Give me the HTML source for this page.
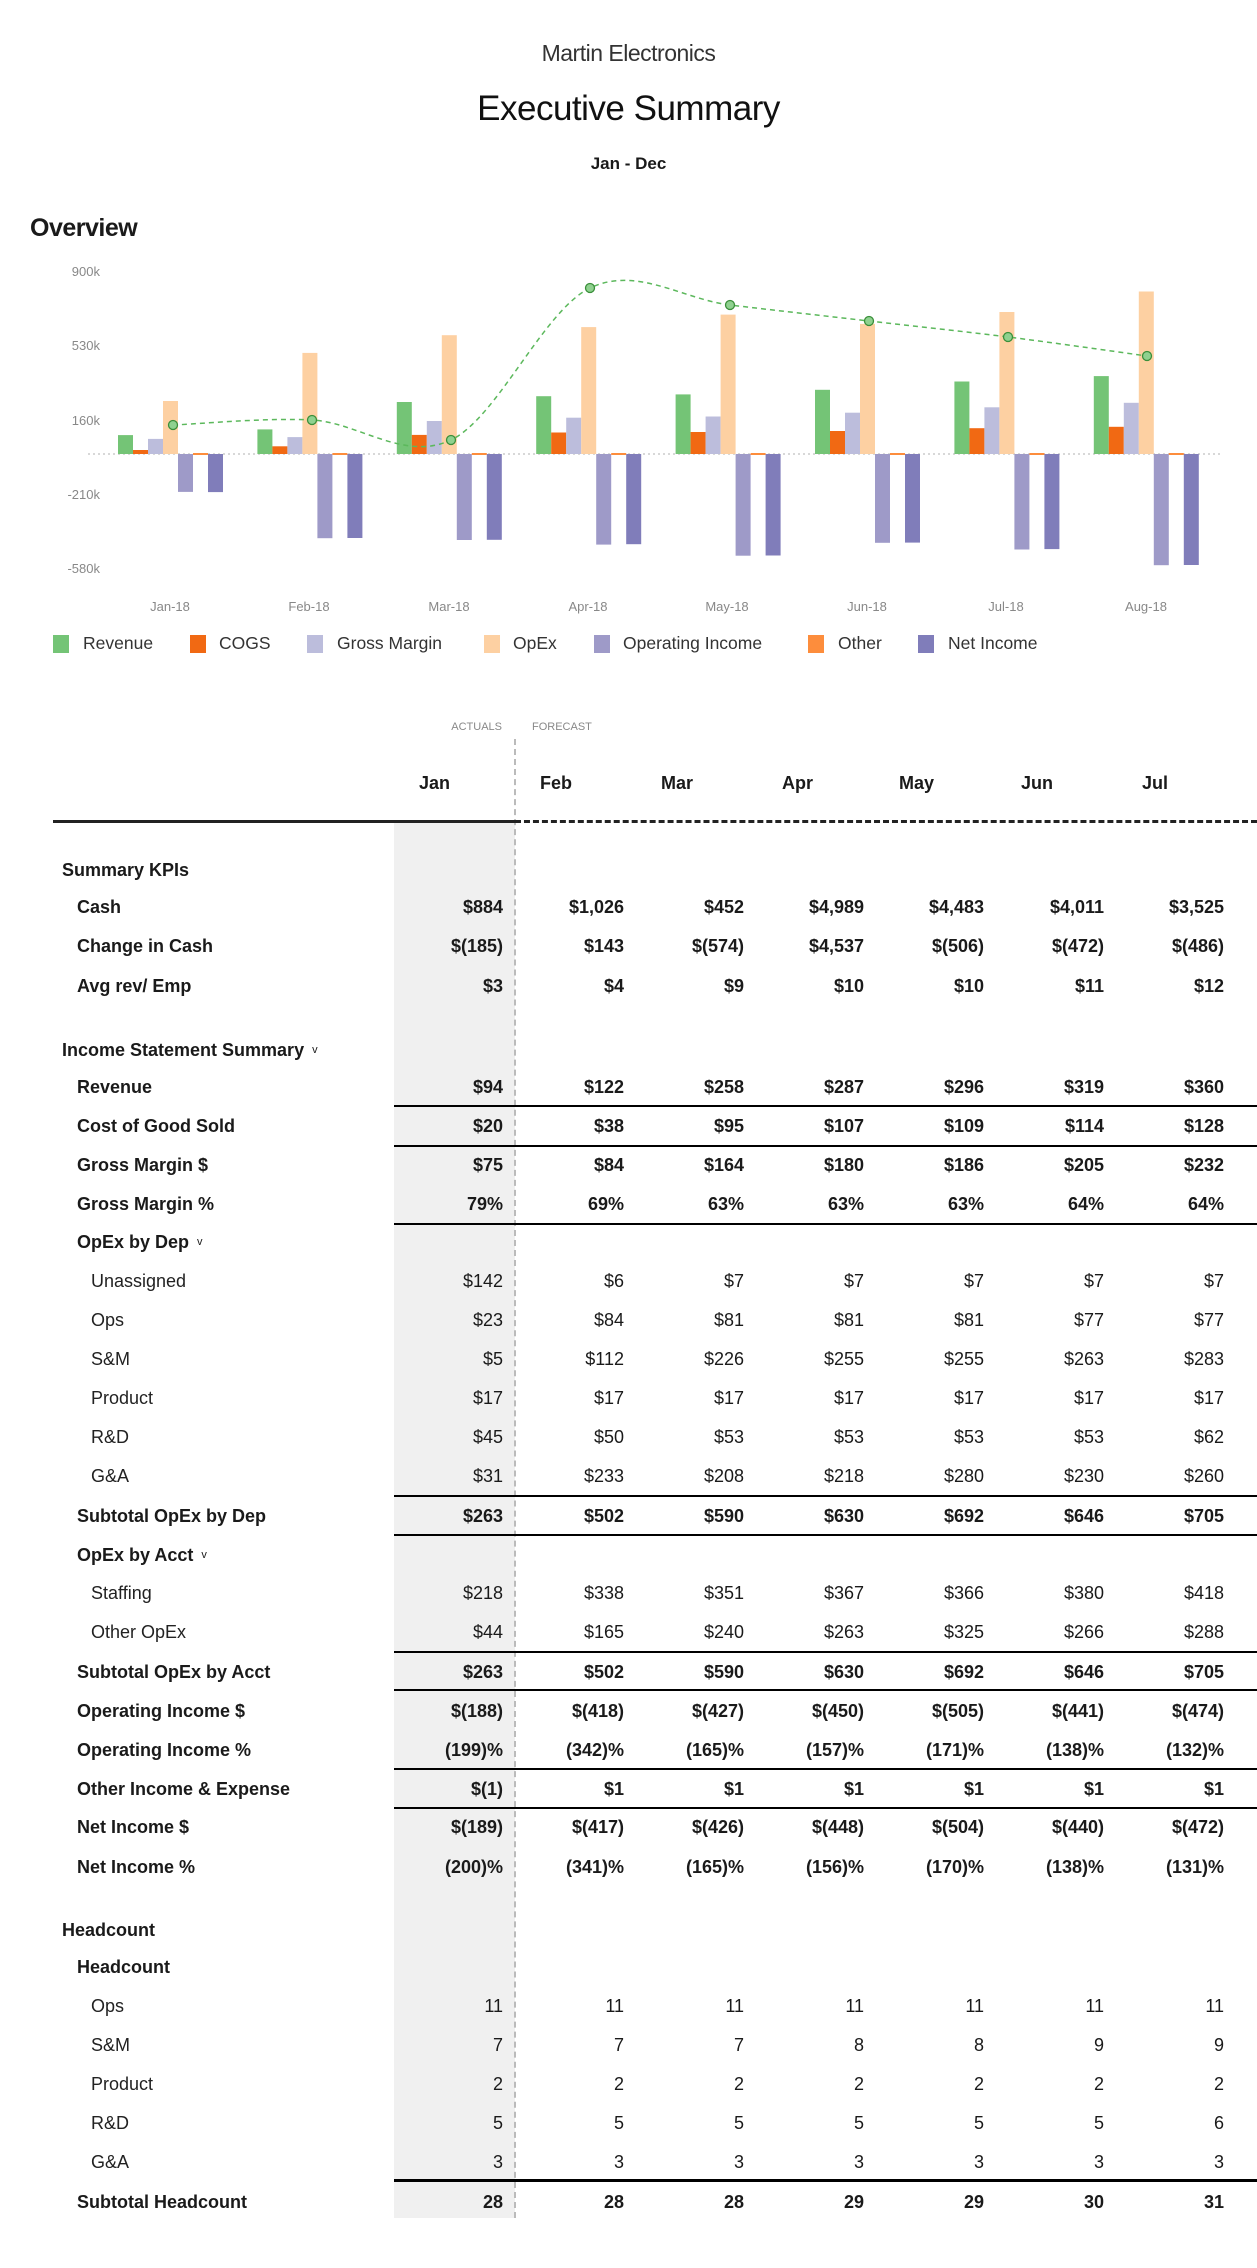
<!DOCTYPE html>
<html><head><meta charset="utf-8"><style>
*{margin:0;padding:0;box-sizing:border-box}
body{width:1257px;height:2268px;position:relative;background:#fff;font-family:"Liberation Sans",Arial,sans-serif;color:#1a1a1a;overflow:hidden}
.a{position:absolute;white-space:nowrap}
.r{position:absolute;left:0;width:1257px;height:39px;line-height:39px;font-size:18px}
.r span{position:absolute;top:0;white-space:nowrap}
.v{width:110px;text-align:right}
.c1{left:393px}.c2{left:514px}.c3{left:634px}.c4{left:754px}.c5{left:874px}.c6{left:994px}.c7{left:1114px}
.l0{left:62px;font-weight:bold}
.l1{left:77px}
.l2{left:91px;color:#222}
.b{font-weight:bold}
.hl{position:absolute;left:394px;width:863px;height:2px;background:#000}
.ch{font-size:11px;font-weight:normal;margin-left:8px;vertical-align:2px}
.lg{position:absolute;top:635px;width:16px;height:18px}
.lt{position:absolute;top:633px;font-size:17.5px;color:#333;white-space:nowrap}
</style></head><body>
<div class="a" style="left:0;width:1257px;text-align:center;top:40px;font-size:23px;color:#333;letter-spacing:-0.5px">Martin Electronics</div>
<div class="a" style="left:0;width:1257px;text-align:center;top:89px;font-size:35px;color:#111;letter-spacing:-0.5px">Executive Summary</div>
<div class="a" style="left:0;width:1257px;text-align:center;top:154px;font-size:17px;font-weight:bold">Jan - Dec</div>
<div class="a" style="left:30px;top:214px;font-size:25px;font-weight:bold;letter-spacing:-0.5px">Overview</div>

<svg class="a" style="left:0;top:0" width="1257" height="700">
<g font-size="13" fill="#888" text-anchor="end" font-family="Liberation Sans, sans-serif">
<text x="100" y="276">900k</text><text x="100" y="350">530k</text><text x="100" y="425">160k</text><text x="100" y="499">-210k</text><text x="100" y="573">-580k</text>
</g>
<g font-size="13" fill="#888" text-anchor="middle" font-family="Liberation Sans, sans-serif">
<text x="170" y="611">Jan-18</text><text x="309" y="611">Feb-18</text><text x="449" y="611">Mar-18</text><text x="588" y="611">Apr-18</text><text x="727" y="611">May-18</text><text x="867" y="611">Jun-18</text><text x="1006" y="611">Jul-18</text><text x="1146" y="611">Aug-18</text>
</g>
<line x1="88" y1="454" x2="1222" y2="454" stroke="#ccc" stroke-width="1.5" stroke-dasharray="2,3"/>
<!-- groups -->
<g transform="translate(118,0)">
<rect x="0" y="435.1" width="15" height="18.9" fill="#74c476"/><rect x="15" y="450" width="15" height="4" fill="#f16913"/><rect x="30" y="438.9" width="15" height="15.1" fill="#bcbddc"/><rect x="45" y="401" width="15" height="53" fill="#fdd0a2"/><rect x="60" y="454" width="15" height="37.9" fill="#9e9ac8"/><rect x="75" y="453" width="15" height="2" fill="#fd8d3c"/><rect x="90" y="454" width="15" height="38.1" fill="#807dba"/></g>
<g transform="translate(257.4,0)">
<rect x="0" y="429.4" width="15" height="24.6" fill="#74c476"/><rect x="15" y="446.3" width="15" height="7.7" fill="#f16913"/><rect x="30" y="437.1" width="15" height="16.9" fill="#bcbddc"/><rect x="45" y="352.9" width="15" height="101.1" fill="#fdd0a2"/><rect x="60" y="454" width="15" height="84.2" fill="#9e9ac8"/><rect x="75" y="453" width="15" height="2" fill="#fd8d3c"/><rect x="90" y="454" width="15" height="84" fill="#807dba"/></g>
<g transform="translate(396.8,0)">
<rect x="0" y="402" width="15" height="52" fill="#74c476"/><rect x="15" y="434.9" width="15" height="19.1" fill="#f16913"/><rect x="30" y="421" width="15" height="33" fill="#bcbddc"/><rect x="45" y="335.2" width="15" height="118.8" fill="#fdd0a2"/><rect x="60" y="454" width="15" height="86" fill="#9e9ac8"/><rect x="75" y="453" width="15" height="2" fill="#fd8d3c"/><rect x="90" y="454" width="15" height="85.8" fill="#807dba"/></g>
<g transform="translate(536.2,0)">
<rect x="0" y="396.2" width="15" height="57.8" fill="#74c476"/><rect x="15" y="432.5" width="15" height="21.5" fill="#f16913"/><rect x="30" y="417.7" width="15" height="36.3" fill="#bcbddc"/><rect x="45" y="327.1" width="15" height="126.9" fill="#fdd0a2"/><rect x="60" y="454" width="15" height="90.6" fill="#9e9ac8"/><rect x="75" y="453" width="15" height="2" fill="#fd8d3c"/><rect x="90" y="454" width="15" height="90.2" fill="#807dba"/></g>
<g transform="translate(675.6,0)">
<rect x="0" y="394.4" width="15" height="59.6" fill="#74c476"/><rect x="15" y="432" width="15" height="22" fill="#f16913"/><rect x="30" y="416.5" width="15" height="37.5" fill="#bcbddc"/><rect x="45" y="314.6" width="15" height="139.4" fill="#fdd0a2"/><rect x="60" y="454" width="15" height="101.7" fill="#9e9ac8"/><rect x="75" y="453" width="15" height="2" fill="#fd8d3c"/><rect x="90" y="454" width="15" height="101.5" fill="#807dba"/></g>
<g transform="translate(815,0)">
<rect x="0" y="389.8" width="15" height="64.2" fill="#74c476"/><rect x="15" y="431" width="15" height="23" fill="#f16913"/><rect x="30" y="412.7" width="15" height="41.3" fill="#bcbddc"/><rect x="45" y="323.9" width="15" height="130.1" fill="#fdd0a2"/><rect x="60" y="454" width="15" height="88.8" fill="#9e9ac8"/><rect x="75" y="453" width="15" height="2" fill="#fd8d3c"/><rect x="90" y="454" width="15" height="88.6" fill="#807dba"/></g>
<g transform="translate(954.4,0)">
<rect x="0" y="381.5" width="15" height="72.5" fill="#74c476"/><rect x="15" y="428.2" width="15" height="25.8" fill="#f16913"/><rect x="30" y="407.3" width="15" height="46.7" fill="#bcbddc"/><rect x="45" y="312" width="15" height="142" fill="#fdd0a2"/><rect x="60" y="454" width="15" height="95.5" fill="#9e9ac8"/><rect x="75" y="453" width="15" height="2" fill="#fd8d3c"/><rect x="90" y="454" width="15" height="95.1" fill="#807dba"/></g>
<g transform="translate(1093.8,0)">
<rect x="0" y="376.1" width="15" height="77.9" fill="#74c476"/><rect x="15" y="426.8" width="15" height="27.2" fill="#f16913"/><rect x="30" y="402.8" width="15" height="51.2" fill="#bcbddc"/><rect x="45" y="291.5" width="15" height="162.5" fill="#fdd0a2"/><rect x="60" y="454" width="15" height="111.2" fill="#9e9ac8"/><rect x="75" y="453" width="15" height="2" fill="#fd8d3c"/><rect x="90" y="454" width="15" height="111" fill="#807dba"/></g>
<path d="M173,425 C196.2,424.2 265.7,417.5 312,420 C358.3,422.5 404.7,462 451,440 C497.3,418 543.5,310.5 590,288 C636.5,265.5 683.5,299.5 730,305 C776.5,310.5 822.7,315.7 869,321 C915.3,326.3 961.7,331.2 1008,337 C1054.3,342.8 1123.8,352.8 1147,356" fill="none" stroke="#5cb85c" stroke-width="1.5" stroke-dasharray="5,4"/>
<g fill="#8fd18f" stroke="#3a8f3a" stroke-width="1.3">
<circle cx="173" cy="425" r="4.5"/><circle cx="312" cy="420" r="4.5"/><circle cx="451" cy="440" r="4.5"/><circle cx="590" cy="288" r="4.5"/><circle cx="730" cy="305" r="4.5"/><circle cx="869" cy="321" r="4.5"/><circle cx="1008" cy="337" r="4.5"/><circle cx="1147" cy="356" r="4.5"/>
</g>
</svg>
<div class="lg" style="left:53px;background:#74c476"></div><div class="lt" style="left:83px">Revenue</div>
<div class="lg" style="left:190px;background:#f16913"></div><div class="lt" style="left:219px">COGS</div>
<div class="lg" style="left:307px;background:#bcbddc"></div><div class="lt" style="left:337px">Gross Margin</div>
<div class="lg" style="left:484px;background:#fdd0a2"></div><div class="lt" style="left:513px">OpEx</div>
<div class="lg" style="left:594px;background:#9e9ac8"></div><div class="lt" style="left:623px">Operating Income</div>
<div class="lg" style="left:808px;background:#fd8d3c"></div><div class="lt" style="left:838px">Other</div>
<div class="lg" style="left:918px;background:#807dba"></div><div class="lt" style="left:948px">Net Income</div>

<!-- table -->
<div class="a" style="left:394px;top:822px;width:121px;height:1396px;background:#f0f0f0"></div>
<div class="a" style="left:514px;top:739px;width:0;height:1479px;border-left:2px dashed #bbb"></div>
<div class="a" style="left:402px;top:721px;width:100px;text-align:right;font-size:11px;color:#888">ACTUALS</div>
<div class="a" style="left:532px;top:721px;font-size:11px;color:#888">FORECAST</div>
<div class="a b" style="left:419px;top:773px;font-size:18px">Jan</div>
<div class="a b" style="left:540px;top:773px;font-size:18px">Feb</div>
<div class="a b" style="left:661px;top:773px;font-size:18px">Mar</div>
<div class="a b" style="left:782px;top:773px;font-size:18px">Apr</div>
<div class="a b" style="left:899px;top:773px;font-size:18px">May</div>
<div class="a b" style="left:1021px;top:773px;font-size:18px">Jun</div>
<div class="a b" style="left:1142px;top:773px;font-size:18px">Jul</div>
<div class="a" style="left:53px;top:820px;width:462px;height:3px;background:#222"></div>
<div class="a" style="left:515px;top:820px;width:742px;height:0;border-top:3px dashed #222"></div>

<div class="hl" style="top:1105px"></div><div class="hl" style="top:1145px"></div><div class="hl" style="top:1223px"></div>
<div class="hl" style="top:1495px"></div><div class="hl" style="top:1534px"></div><div class="hl" style="top:1651px"></div>
<div class="hl" style="top:1689px"></div><div class="hl" style="top:1768px"></div><div class="hl" style="top:1807px"></div>
<div class="hl" style="top:2179px;height:3px"></div>

<div class="r" style="top:851px"><span class="l0">Summary KPIs</span></div>
<div class="r b" style="top:888px"><span class="l1">Cash</span><span class="v c1">$884</span><span class="v c2">$1,026</span><span class="v c3">$452</span><span class="v c4">$4,989</span><span class="v c5">$4,483</span><span class="v c6">$4,011</span><span class="v c7">$3,525</span></div>
<div class="r b" style="top:927px"><span class="l1">Change in Cash</span><span class="v c1">$(185)</span><span class="v c2">$143</span><span class="v c3">$(574)</span><span class="v c4">$4,537</span><span class="v c5">$(506)</span><span class="v c6">$(472)</span><span class="v c7">$(486)</span></div>
<div class="r b" style="top:967px"><span class="l1">Avg rev/ Emp</span><span class="v c1">$3</span><span class="v c2">$4</span><span class="v c3">$9</span><span class="v c4">$10</span><span class="v c5">$10</span><span class="v c6">$11</span><span class="v c7">$12</span></div>
<div class="r" style="top:1031px"><span class="l0">Income Statement Summary<span class="ch">v</span></span></div>
<div class="r b" style="top:1068px"><span class="l1">Revenue</span><span class="v c1">$94</span><span class="v c2">$122</span><span class="v c3">$258</span><span class="v c4">$287</span><span class="v c5">$296</span><span class="v c6">$319</span><span class="v c7">$360</span></div>
<div class="r b" style="top:1107px"><span class="l1">Cost of Good Sold</span><span class="v c1">$20</span><span class="v c2">$38</span><span class="v c3">$95</span><span class="v c4">$107</span><span class="v c5">$109</span><span class="v c6">$114</span><span class="v c7">$128</span></div>
<div class="r b" style="top:1146px"><span class="l1">Gross Margin $</span><span class="v c1">$75</span><span class="v c2">$84</span><span class="v c3">$164</span><span class="v c4">$180</span><span class="v c5">$186</span><span class="v c6">$205</span><span class="v c7">$232</span></div>
<div class="r b" style="top:1185px"><span class="l1">Gross Margin %</span><span class="v c1">79%</span><span class="v c2">69%</span><span class="v c3">63%</span><span class="v c4">63%</span><span class="v c5">63%</span><span class="v c6">64%</span><span class="v c7">64%</span></div>
<div class="r b" style="top:1223px"><span class="l1">OpEx by Dep<span class="ch">v</span></span></div>
<div class="r" style="top:1262px"><span class="l2">Unassigned</span><span class="v c1">$142</span><span class="v c2">$6</span><span class="v c3">$7</span><span class="v c4">$7</span><span class="v c5">$7</span><span class="v c6">$7</span><span class="v c7">$7</span></div>
<div class="r" style="top:1301px"><span class="l2">Ops</span><span class="v c1">$23</span><span class="v c2">$84</span><span class="v c3">$81</span><span class="v c4">$81</span><span class="v c5">$81</span><span class="v c6">$77</span><span class="v c7">$77</span></div>
<div class="r" style="top:1340px"><span class="l2">S&amp;M</span><span class="v c1">$5</span><span class="v c2">$112</span><span class="v c3">$226</span><span class="v c4">$255</span><span class="v c5">$255</span><span class="v c6">$263</span><span class="v c7">$283</span></div>
<div class="r" style="top:1379px"><span class="l2">Product</span><span class="v c1">$17</span><span class="v c2">$17</span><span class="v c3">$17</span><span class="v c4">$17</span><span class="v c5">$17</span><span class="v c6">$17</span><span class="v c7">$17</span></div>
<div class="r" style="top:1418px"><span class="l2">R&amp;D</span><span class="v c1">$45</span><span class="v c2">$50</span><span class="v c3">$53</span><span class="v c4">$53</span><span class="v c5">$53</span><span class="v c6">$53</span><span class="v c7">$62</span></div>
<div class="r" style="top:1457px"><span class="l2">G&amp;A</span><span class="v c1">$31</span><span class="v c2">$233</span><span class="v c3">$208</span><span class="v c4">$218</span><span class="v c5">$280</span><span class="v c6">$230</span><span class="v c7">$260</span></div>
<div class="r b" style="top:1497px"><span class="l1">Subtotal OpEx by Dep</span><span class="v c1">$263</span><span class="v c2">$502</span><span class="v c3">$590</span><span class="v c4">$630</span><span class="v c5">$692</span><span class="v c6">$646</span><span class="v c7">$705</span></div>
<div class="r b" style="top:1536px"><span class="l1">OpEx by Acct<span class="ch">v</span></span></div>
<div class="r" style="top:1574px"><span class="l2">Staffing</span><span class="v c1">$218</span><span class="v c2">$338</span><span class="v c3">$351</span><span class="v c4">$367</span><span class="v c5">$366</span><span class="v c6">$380</span><span class="v c7">$418</span></div>
<div class="r" style="top:1613px"><span class="l2">Other OpEx</span><span class="v c1">$44</span><span class="v c2">$165</span><span class="v c3">$240</span><span class="v c4">$263</span><span class="v c5">$325</span><span class="v c6">$266</span><span class="v c7">$288</span></div>
<div class="r b" style="top:1653px"><span class="l1">Subtotal OpEx by Acct</span><span class="v c1">$263</span><span class="v c2">$502</span><span class="v c3">$590</span><span class="v c4">$630</span><span class="v c5">$692</span><span class="v c6">$646</span><span class="v c7">$705</span></div>
<div class="r b" style="top:1692px"><span class="l1">Operating Income $</span><span class="v c1">$(188)</span><span class="v c2">$(418)</span><span class="v c3">$(427)</span><span class="v c4">$(450)</span><span class="v c5">$(505)</span><span class="v c6">$(441)</span><span class="v c7">$(474)</span></div>
<div class="r b" style="top:1731px"><span class="l1">Operating Income %</span><span class="v c1">(199)%</span><span class="v c2">(342)%</span><span class="v c3">(165)%</span><span class="v c4">(157)%</span><span class="v c5">(171)%</span><span class="v c6">(138)%</span><span class="v c7">(132)%</span></div>
<div class="r b" style="top:1770px"><span class="l1">Other Income &amp; Expense</span><span class="v c1">$(1)</span><span class="v c2">$1</span><span class="v c3">$1</span><span class="v c4">$1</span><span class="v c5">$1</span><span class="v c6">$1</span><span class="v c7">$1</span></div>
<div class="r b" style="top:1808px"><span class="l1">Net Income $</span><span class="v c1">$(189)</span><span class="v c2">$(417)</span><span class="v c3">$(426)</span><span class="v c4">$(448)</span><span class="v c5">$(504)</span><span class="v c6">$(440)</span><span class="v c7">$(472)</span></div>
<div class="r b" style="top:1848px"><span class="l1">Net Income %</span><span class="v c1">(200)%</span><span class="v c2">(341)%</span><span class="v c3">(165)%</span><span class="v c4">(156)%</span><span class="v c5">(170)%</span><span class="v c6">(138)%</span><span class="v c7">(131)%</span></div>
<div class="r" style="top:1911px"><span class="l0">Headcount</span></div>
<div class="r b" style="top:1948px"><span class="l1">Headcount</span></div>
<div class="r" style="top:1987px"><span class="l2">Ops</span><span class="v c1">11</span><span class="v c2">11</span><span class="v c3">11</span><span class="v c4">11</span><span class="v c5">11</span><span class="v c6">11</span><span class="v c7">11</span></div>
<div class="r" style="top:2026px"><span class="l2">S&amp;M</span><span class="v c1">7</span><span class="v c2">7</span><span class="v c3">7</span><span class="v c4">8</span><span class="v c5">8</span><span class="v c6">9</span><span class="v c7">9</span></div>
<div class="r" style="top:2065px"><span class="l2">Product</span><span class="v c1">2</span><span class="v c2">2</span><span class="v c3">2</span><span class="v c4">2</span><span class="v c5">2</span><span class="v c6">2</span><span class="v c7">2</span></div>
<div class="r" style="top:2104px"><span class="l2">R&amp;D</span><span class="v c1">5</span><span class="v c2">5</span><span class="v c3">5</span><span class="v c4">5</span><span class="v c5">5</span><span class="v c6">5</span><span class="v c7">6</span></div>
<div class="r" style="top:2143px"><span class="l2">G&amp;A</span><span class="v c1">3</span><span class="v c2">3</span><span class="v c3">3</span><span class="v c4">3</span><span class="v c5">3</span><span class="v c6">3</span><span class="v c7">3</span></div>
<div class="r b" style="top:2183px"><span class="l1">Subtotal Headcount</span><span class="v c1">28</span><span class="v c2">28</span><span class="v c3">28</span><span class="v c4">29</span><span class="v c5">29</span><span class="v c6">30</span><span class="v c7">31</span></div>
</body></html>
